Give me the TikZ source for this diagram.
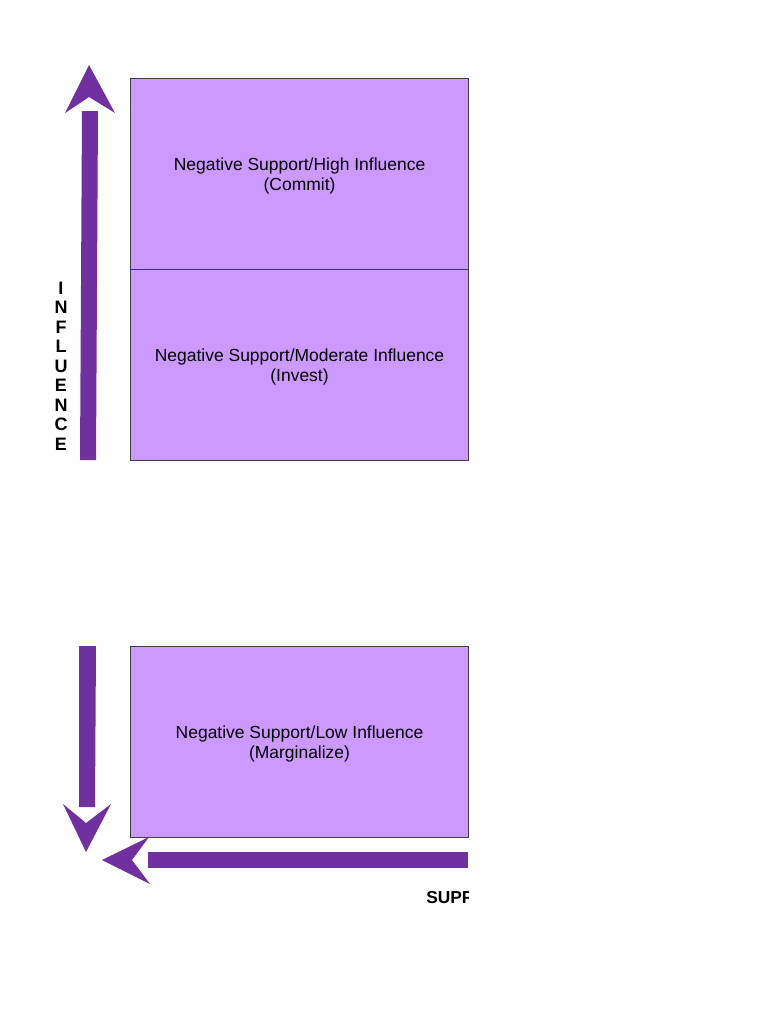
\documentclass[tikz,border=0pt]{standalone}
\usepackage{fontspec}
\setmainfont{Liberation Sans}
\definecolor{boxfill}{HTML}{CC99FF}
\definecolor{arrowpurple}{HTML}{7030A0}
\definecolor{boxline}{HTML}{404040}
\begin{document}
\begin{tikzpicture}[x=0.75pt,y=-0.75pt,
  quad/.style={draw=boxline,line width=0.8pt,fill=boxfill,minimum width=338*0.75pt,minimum height=191*0.75pt,inner sep=0pt,anchor=north west},
  quadtext/.style={align=center,inner sep=0pt,yshift=-1.5pt,font=\fontsize{13.1}{15}\selectfont},
  bigarrow/.style={fill=arrowpurple,draw=none}]
\useasboundingbox (0,0) rectangle (768,1024);
\fill[white] (0,0) rectangle (768,1024);
% boxes
\node[quad] (high) at (130,78) {};
\node[quad] (mod) at (130,269) {};
\node[quad] (low) at (130,646) {};
\node[quadtext] (hight) at (high.center) {Negative Support/High Influence\\(Commit)};
\node[quadtext] (modt) at (mod.center) {Negative Support/Moderate Influence\\(Invest)};
\node[quadtext] (lowt) at (low.center) {Negative Support/Low Influence\\(Marginalize)};
% up arrow
\fill[bigarrow] (82,111) -- (98,111) -- (96,460) -- (80,460) -- cycle;
\fill[bigarrow] (89,65) -- (115,113) -- (89,97) -- (65,113) -- cycle;
% down arrow
\fill[bigarrow] (79,646) -- (96,646) -- (95,807) -- (79,807) -- cycle;
\fill[bigarrow] (63,804) -- (86,823) -- (111,804) -- (86,852) -- cycle;
% left arrow
\fill[bigarrow] (148,852) -- (468,852) -- (468,868) -- (148,868) -- cycle;
\fill[bigarrow] (102,860) -- (149,837) -- (132,860) -- (150,884) -- cycle;
% labels
\node[font=\fontsize{13.5}{14.6}\selectfont\bfseries,align=center,inner sep=0pt] (infl) at (61,366) {I\\N\\F\\L\\U\\E\\N\\C\\E};
\begin{scope}
\clip (0,0) rectangle (468,1024);
\node[font=\fontsize{13}{15}\selectfont\bfseries,anchor=west,inner sep=0pt] (supp) at (426,898) {SUPPORT};
\end{scope}
\end{tikzpicture}
\end{document}
